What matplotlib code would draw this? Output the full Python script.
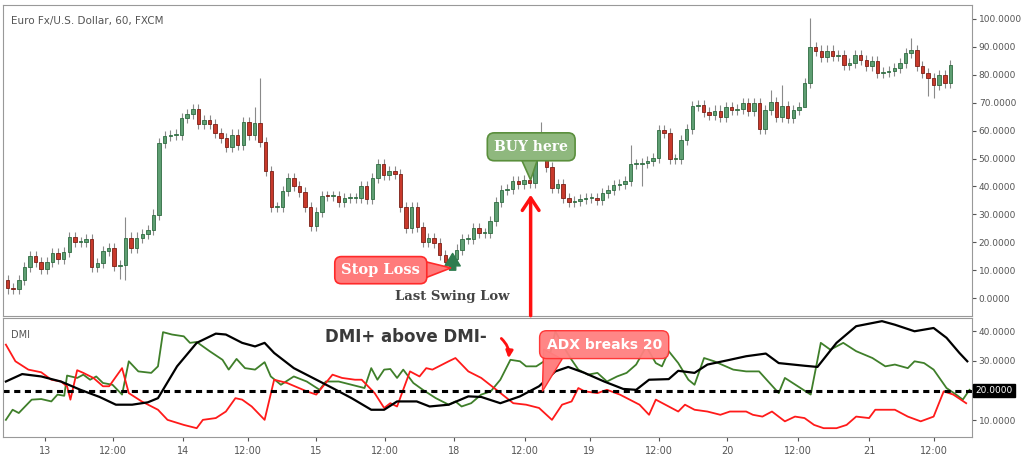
import matplotlib.pyplot as plt
import numpy as np
from matplotlib.patches import Polygon

# ---- candle data (hourly closes, first open given) ----
first_open = 6.5
closes = [3.5, 3.3, 6.5, 11, 15, 13, 10.3, 13, 16, 14, 16.5, 22, 20, 20, 21, 11, 12.7, 17, 18, 11.5,
          12, 21.7, 18, 21.7, 23, 24.5, 29.7, 55.7, 58, 58.4, 58.6, 64.4, 66, 67.7, 62.2, 63.8, 62.2, 59.2, 57.5, 54,
          58.6, 55, 63.2, 58.4, 62.6, 56, 45.5, 32.5, 32.5, 38.5, 43, 40.3, 37.9, 32.7, 26, 30.7, 36.7, 36.5, 36.7, 34.5,
          36, 36, 36, 40.3, 35.5, 43, 48, 44, 45.5, 44.4, 32.5, 25, 32.5, 25.5, 20.2, 21.4, 19.6, 15.4, 13, 14,
          17.4, 21, 21, 25.2, 23.2, 23.4, 27.7, 34.3, 38.7,
          39, 42, 41, 42.4, 41.2, 51.3, 51.5, 47, 39.4, 41, 36, 34.6, 34.8, 35.5, 36, 36, 35.2, 37.6, 38.8, 40.6,
          40.8, 42, 48, 48, 48.3, 49.2, 50.1, 60.3, 59.3, 49.8, 49.9, 56.7, 60.5, 68.9, 69, 66.6, 65.6, 67.2, 64.8, 68.4,
          67.4, 67.8, 69.8, 67.2, 69.8, 60.5, 67.4, 70.4, 65, 68.9, 64.4, 67.4, 68.6, 77, 89.9, 88.7, 86.5, 88.7, 86.9, 87.1,
          83.5, 84.1, 87.1, 85.3, 83.3, 85, 80.5, 81.1, 81.5, 82.3, 84.1, 87.7, 88.9, 83.2, 80.8, 78.8, 76.4, 80, 77.2, 83.5]
# notable wick extremes (candle index: value)
long_highs = {45: 78.7, 44: 68.5, 21: 29, 95: 63.2, 111: 54.9, 143: 100.4, 161: 93.3, 136: 74.4, 138: 76.4, 26: 32}
long_lows = {21: 6.5, 20: 6.8, 113: 40, 142: 74.6, 164: 72.4, 165: 71.6, 0: 1.5}
default_wick = 1.8

# ---- DMI panel (candle index, value) ----
adx_x = [-0.3, 2.6, 6.0, 9.5, 13.0, 16.4, 19.3, 22.2, 25.0, 26.8, 30.2, 33.7, 37.1, 38.9, 41.8, 44.1, 45.8, 47.5, 51.0, 54.4,
         57.9, 61.3, 64.8, 67.1, 69.4, 72.9, 75.2, 78.6, 82.1, 84.4, 87.8, 91.3, 94.7, 97.6, 99.9, 102.8, 106.3, 109.7, 112.0,
         114.3, 117.8, 119.5, 122.4, 124.7, 128.2, 131.6, 135.1, 137.4, 142.0, 144.3, 147.7, 151.2, 155.8, 158.1, 161.6,
         165.0, 167.3, 169.6, 171.0]
adx_y = [23.1, 25.6, 24.8, 23.1, 20.3, 17.9, 15.3, 15.3, 16.1, 17.5, 28.2, 36.1, 39.2, 38.9, 36.1, 34.9, 36.1, 32.7, 27.6, 24.3,
         20.9, 17.5, 13.6, 13.6, 16.4, 16.4, 14.7, 15.3, 18.1, 17.9, 15.8, 18.1, 21.5, 26.5, 28.0, 26.0, 23.1, 20.6, 20.3,
         23.7, 23.9, 26.7, 26.0, 28.8, 30.2, 31.6, 32.5, 29.3, 28.4, 28.0, 36.1, 41.7, 43.4, 42.2, 40.0,
         41.1, 37.8, 32.7, 29.9]
dip_x = [-0.3, 0.9, 2.0, 4.3, 6.0, 7.8, 8.9, 10.1, 10.6, 12.4, 13.5, 14.7, 15.8, 17.0, 18.7, 20.4, 21.6, 23.3, 25.6, 26.8,
         27.7, 29.3, 31.4, 32.5, 33.7, 36.0, 38.3, 39.4, 40.8, 42.3, 44.1, 45.8, 46.9, 48.7, 51.0, 53.3, 55.6, 56.7, 59.0,
         61.3, 63.6, 64.8, 65.9, 67.1, 68.2, 69.4, 70.5, 72.3, 74.0, 76.3, 78.6, 79.8, 80.9, 82.6, 84.4, 86.1, 87.8, 89.6,
         91.3, 92.4, 94.2, 96.5, 97.6, 99.4, 100.5, 101.7, 103.4, 105.1, 106.8, 108.6, 110.3, 112.0, 113.8, 115.5, 116.6,
         117.8, 119.5, 121.3, 122.4, 124.1, 125.9, 129.3, 131.6, 133.9, 137.4, 138.5, 140.8, 143.1, 144.9, 146.6, 148.9,
         151.2, 154.1, 156.4, 158.1, 160.4, 161.6, 163.3, 165.0, 167.3, 169.0, 170.2, 171.4]
dip_y = [10.2, 13.6, 12.5, 17.0, 17.2, 16.4, 18.7, 18.3, 25.1, 24.3, 25.4, 23.7, 24.8, 22.6, 22.0, 18.7, 29.9, 26.5, 26.0, 28.2,
         39.7, 38.9, 38.3, 36.1, 36.4, 33.3, 30.4, 27.1, 30.7, 27.6, 27.1, 29.6, 24.8, 22.0, 24.8, 23.1, 20.3, 23.1, 23.1,
         22.0, 20.9, 27.6, 23.7, 27.1, 27.3, 24.3, 27.1, 22.6, 20.3, 17.5, 15.3, 16.4, 14.7, 15.8, 18.7, 19.8, 23.7, 30.4,
         29.9, 28.2, 28.2, 31.0, 40.0, 33.8, 30.4, 27.1, 25.4, 26.0, 23.1, 24.8, 26.0, 28.8, 34.9, 29.3, 28.2,
         33.3, 29.3, 23.7, 22.0, 31.0, 29.9, 27.1, 26.5, 26.5, 19.2, 24.3, 21.5, 18.7, 36.1, 33.8, 36.1,
         33.3, 31.0, 28.2, 28.8, 27.6, 29.9, 29.3, 27.1, 20.9, 18.7, 17.0, 20.3]
dim_x = [-0.3, 1.4, 3.7, 6.0, 7.8, 9.5, 10.6, 11.2, 12.4, 13.5, 15.3, 17.0, 18.1, 20.4, 21.6, 23.9, 26.8, 28.5, 31.4, 33.7,
         34.8, 37.1, 38.9, 40.6, 41.8, 43.5, 45.8, 47.5, 49.8, 53.3, 55.0, 57.9, 59.6, 61.9, 63.1, 65.4, 67.1, 68.2, 69.4,
         71.7, 73.4, 74.6, 75.7, 78.6, 79.8, 82.1, 84.4, 86.7, 90.1, 92.4, 94.7, 97.0, 98.8, 100.5, 101.7, 102.8, 105.1,
         106.8, 109.1, 112.6, 114.3, 115.5, 117.2, 119.5, 120.7, 122.4, 124.7, 127.0, 128.7, 131.6, 132.8, 134.5, 136.2,
         138.5, 140.3, 142.0, 143.7, 145.4, 147.7, 149.5, 151.2, 153.5, 154.6, 158.1, 160.4, 162.7, 165.0, 166.8, 168.5, 170.8]
dim_y = [35.5, 29.9, 27.1, 26.2, 23.7, 23.1, 21.5, 17.0, 26.9, 26.0, 24.3, 21.5, 21.5, 27.6, 19.2, 16.4, 13.6, 10.2, 8.5, 7.4,
         10.2, 10.8, 13.0, 17.5, 17.0, 14.7, 10.2, 23.7, 22.6, 19.8, 18.7, 25.4, 24.3, 23.7, 23.7, 19.2, 14.2, 15.8, 14.7,
         26.5, 24.8, 27.6, 27.1, 29.9, 31.0, 26.5, 24.3, 20.9, 15.8, 15.3, 14.2, 10.2, 15.3, 16.4, 20.9, 19.8, 19.2,
         20.3, 18.7, 15.3, 11.9, 17.0, 15.3, 13.0, 15.3, 13.6, 13.0, 11.9, 13.0, 13.0, 11.9, 11.3, 13.0,
         9.7, 11.3, 10.8, 8.5, 7.4, 7.4, 8.5, 11.3, 10.8, 13.6, 13.6, 11.3, 9.7, 11.3, 19.8, 18.7, 15.8]

tick_pos = [6.6, 18.7, 31.2, 42.9, 55.0, 67.3, 79.5, 92.2, 103.7, 116.1, 128.2, 140.8, 153.5, 165.0]
tick_lab = ['13', '12:00', '14', '12:00', '15', '12:00', '18', '12:00', '19', '12:00', '20', '12:00', '21', '12:00']

GREEN, GREEN_E = '#5e9e72', '#2f6b41'
RED, RED_E = '#c8392b', '#7a1f16'
GRAY = '#555555'

fig = plt.figure(figsize=(10.24, 4.55), dpi=100)
ax = fig.add_axes([0.003, 0.305, 0.946, 0.684])
ax2 = fig.add_axes([0.003, 0.04, 0.946, 0.262])

idx = np.arange(len(closes))
opens = np.array([first_open] + closes[:-1])
closes_a = np.array(closes)
up = closes_a >= opens
hi = np.maximum(opens, closes_a)
lo = np.minimum(opens, closes_a)
highs = np.array([long_highs.get(i, hi[i] + default_wick) for i in idx])
lows = np.array([long_lows.get(i, lo[i] - default_wick) for i in idx])

ax.vlines(idx, lows, highs, color='#8a8a8a', lw=0.8, zorder=1)
body = np.maximum(hi - lo, 0.35)
ax.bar(idx, body, bottom=lo, width=0.62,
       color=np.where(up, GREEN, RED), edgecolor=np.where(up, GREEN_E, RED_E), lw=0.6, zorder=2)

for a in (ax, ax2):
    a.set_xlim(-0.8, 171.8)
    a.yaxis.tick_right()
    a.tick_params(axis='y', labelsize=6.5, colors=GRAY, length=3, pad=2)
    for s in a.spines.values():
        s.set_color('#999999')
ax.set_ylim(-6.5, 105)
ax.set_yticks(range(0, 101, 10))
ax.set_yticklabels(['%.4f' % v for v in range(0, 101, 10)])
ax.set_xticks([])

ax2.set_ylim(4.5, 44.6)
ax2.set_yticks([10, 30, 40])
ax2.set_yticklabels(['10.0000', '30.0000', '40.0000'])
ax2.set_xticks(tick_pos)
ax2.set_xticklabels(tick_lab)
ax2.tick_params(axis='x', labelsize=7, colors=GRAY, length=3)

ax2.plot(dip_x, dip_y, color='#3f7f2a', lw=1.3)
ax2.plot(dim_x, dim_y, color='#ff1a1a', lw=1.3)
ax2.plot(adx_x, adx_y, color='black', lw=1.6)
ax2.axhline(20, color='black', lw=2.2, ls=(0, (2, 1.5)))
ax2.text(1.004, 20, '20.0000', transform=ax2.get_yaxis_transform(), fontsize=6.5, color='white',
         va='center', ha='left', bbox=dict(boxstyle='square,pad=0.25', fc='black', ec='black'))

ax.text(0.008, 0.965, 'Euro Fx/U.S. Dollar, 60, FXCM', transform=ax.transAxes, fontsize=7.5, color=GRAY, va='top')
ax2.text(0.008, 0.9, 'DMI', transform=ax2.transAxes, fontsize=7, color=GRAY, va='top')

# Stop Loss callout
ax.add_patch(Polygon([(73.5, 13.5), (73.5, 6.5), (79, 10.8)], closed=True, fc='#ff7b7b', ec='#ff2a2a', lw=1.2, zorder=4))
ax.text(66.5, 10, 'Stop Loss', fontsize=10.5, fontweight='bold', family='DejaVu Serif', color='white', ha='center',
        va='center', zorder=5, bbox=dict(boxstyle='round,pad=0.45', fc='#ff7b7b', ec='#ff2a2a', lw=1.2))
ax.annotate('', xy=(79.3, 17), xytext=(79.3, 9),
            arrowprops=dict(arrowstyle='simple,head_width=1.1,head_length=0.9,tail_width=0.45', color='#2f7d4f'))
ax.text(79.3, 0.7, 'Last Swing Low', fontsize=9.5, fontweight='bold', family='DejaVu Serif', color='#444444',
        ha='center', va='center')

# BUY here callout
ax.add_patch(Polygon([(91.6, 49.5), (94.4, 49.5), (93.2, 42.3)], closed=True, fc='#8fb87e', ec='#5a8f3c', lw=1.2, zorder=4))
ax.text(93.3, 54.2, 'BUY here', fontsize=10, fontweight='bold', family='DejaVu Serif', color='white', ha='center',
        va='center', zorder=5, bbox=dict(boxstyle='round,pad=0.5', fc='#8fb87e', ec='#5a8f3c', lw=1.2))

# big red arrow
ax.annotate('', xy=(93.2, 38), xytext=(93.2, -7.3), annotation_clip=False,
            arrowprops=dict(arrowstyle='->,head_width=0.6,head_length=0.9', color='#ff1010', lw=2.5))

# DMI labels
ax2.text(71, 38, 'DMI+ above DMI-', fontsize=12, fontweight='bold', family=['Liberation Sans Narrow', 'DejaVu Sans'],
         color='#3a3a3a', ha='center', va='center')
ax2.annotate('', xy=(89.2, 30.0), xytext=(87.6, 38.2),
             arrowprops=dict(arrowstyle='-|>', color='#ff1010', lw=2, connectionstyle='arc3,rad=-0.3'))
ax2.add_patch(Polygon([(95.5, 34), (98.8, 30.6), (95.3, 19.8)], closed=True, fc='#ff8080', ec='#ff3030', lw=1, zorder=4))
ax2.text(106.3, 35.5, 'ADX breaks 20', fontsize=10, fontweight='bold', family=['Liberation Sans Narrow', 'DejaVu Sans'],
         color='white', ha='center', va='center', zorder=5,
         bbox=dict(boxstyle='round,pad=0.5', fc='#ff8080', ec='#ff3030', lw=1, alpha=0.95))

fig.savefig('out.png', dpi=100)
